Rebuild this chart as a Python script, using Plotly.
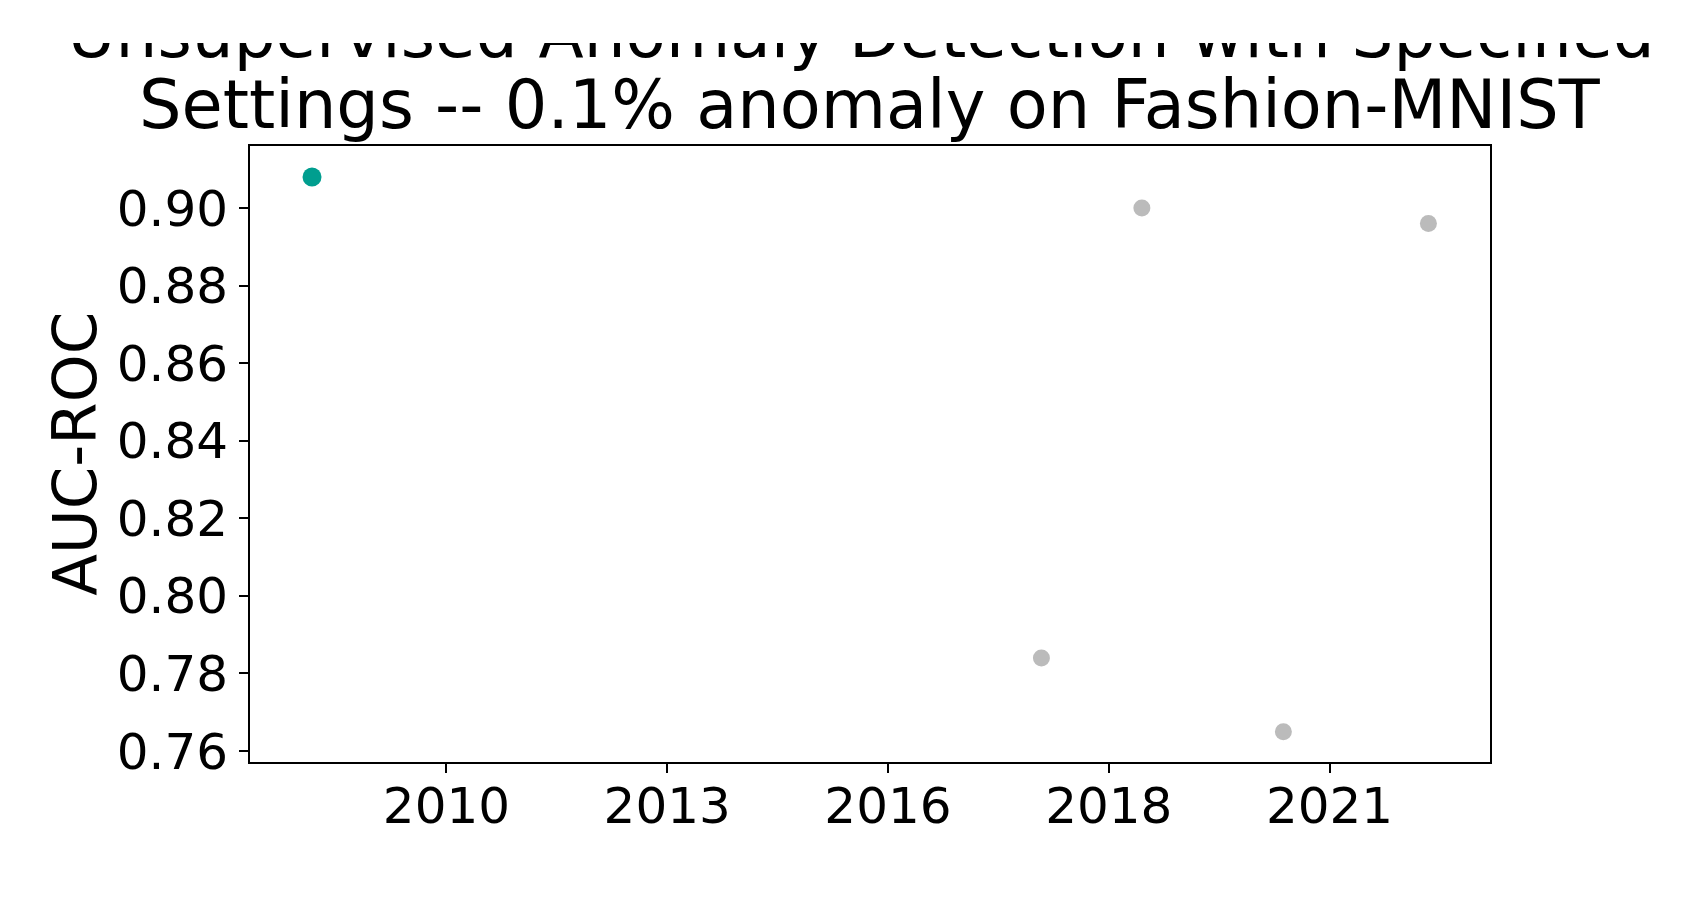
import datetime as dt
import plotly.graph_objects as go

# ── Data ─────────────────────────────────────────────────────────────────────
method_dates = ["2008-12-15", "2018-01-01", "2019-04-01", "2021-01-01", "2022-10-20"]
auc_roc = [0.908, 0.784, 0.900, 0.765, 0.896]
highlighted = [True, False, False, False, False]

# matplotlib-style ordinal day ticks (every 1000 days)
tick_ordinals = [734000, 735000, 736000, 737000, 738000]
tick_labels = ["2010", "2013", "2016", "2018", "2021"]
tick_dates = [dt.date.fromordinal(o).isoformat() for o in tick_ordinals]

y_ticks = [0.76, 0.78, 0.80, 0.82, 0.84, 0.86, 0.88, 0.90]

title_lines = ["Unsupervised Anomaly Detection with Specified",
               "Settings -- 0.1% anomaly on Fashion-MNIST"]

TEAL = "#009e8f"
GREY = "#bbbbbb"
FONT = "DejaVu Sans"

# ── Layout geometry (figure pixels) ──────────────────────────────────────────
W, H = 1700, 900
X_DOM = [242 / W, 1482 / W]
Y_DOM = [1 - 753.5 / H, 1 - 138 / H]
CLIP_DOM = [1 - 68 / H, 1 - 35 / H]   # strip that crops the first title line

grey_x = [d for d, h in zip(method_dates, highlighted) if not h]
grey_y = [v for v, h in zip(auc_roc, highlighted) if not h]
teal_x = [d for d, h in zip(method_dates, highlighted) if h]
teal_y = [v for v, h in zip(auc_roc, highlighted) if h]

fig = go.Figure()
fig.add_trace(go.Scatter(x=grey_x, y=grey_y, mode="markers",
                         marker=dict(color=GREY, size=17), showlegend=False))
fig.add_trace(go.Scatter(x=teal_x, y=teal_y, mode="markers",
                         marker=dict(color=TEAL, size=19), showlegend=False))

# first title line, clipped at its top like the original
fig.add_trace(go.Scatter(x=[sum(X_DOM) / 2 - 9 / W], y=[1.074], mode="text",
                         text=[title_lines[0]], textposition="middle center",
                         textfont=dict(family=FONT, size=66, color="black"),
                         cliponaxis=True, xaxis="x2", yaxis="y2",
                         showlegend=False, hoverinfo="skip"))

axis_style = dict(
    showline=True, mirror=True, linecolor="black", linewidth=2,
    ticks="outside", ticklen=9, tickwidth=2, tickcolor="black",
    showgrid=False, zeroline=False, automargin=False,
    tickfont=dict(family=FONT, size=50, color="black"),
)

fig.update_layout(
    template="none",
    width=W, height=H,
    paper_bgcolor="white", plot_bgcolor="white",
    margin=dict(l=0, r=0, t=0, b=0),
    font=dict(family=FONT, color="black"),
    xaxis=dict(type="date", domain=X_DOM, range=["2008-03-09", "2023-07-26"],
               tickvals=tick_dates, ticktext=tick_labels,
               ticklabelstandoff=-10, **axis_style),
    yaxis=dict(domain=Y_DOM, range=[0.7573, 0.9160], tickvals=y_ticks, tickformat=".2f",
               ticklabelstandoff=1,
               title=dict(text="AUC-ROC", font=dict(family=FONT, size=61), standoff=0),
               **axis_style),
    xaxis2=dict(domain=[0, 1], range=[0, 1], anchor="y2", visible=False),
    yaxis2=dict(domain=CLIP_DOM, range=[0, 1], anchor="x2", visible=False),
    annotations=[
        dict(text=title_lines[1], xref="paper", yref="paper",
             x=sum(X_DOM) / 2, y=1 - 97 / H, xanchor="center", yanchor="middle",
             showarrow=False, font=dict(family=FONT, size=67, color="black")),
    ],
)

fig.write_html("out.html")
